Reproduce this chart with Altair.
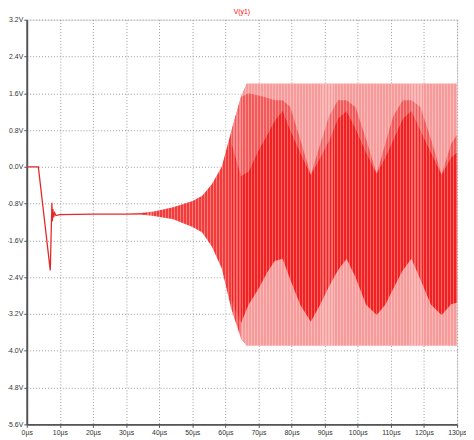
import altair as alt
import pandas as pd

# ---- data ----
x_ticks = [0, 10, 20, 30, 40, 50, 60, 70, 80, 90, 100, 110, 120, 130]
y_ticks = [3.2, 2.4, 1.6, 0.8, 0.0, -0.8, -1.6, -2.4, -3.2, -4.0, -4.8, -5.6]

# start-up transient (µs, V)
init_t = [0, 3.5, 7.1, 7.6, 7.75, 7.9, 8.1, 8.4, 8.8, 10, 20, 30, 36]
init_v = [0, 0, -2.25, -0.78, -1.18, -0.92, -1.1, -1.0, -1.06, -1.04, -1.03, -1.03, -1.02]

# oscillation envelope (µs, upper V, lower V)
env_t = [35, 38.4, 44.2, 50.1, 53.0, 55.9, 58.9, 61.8, 64.7, 66.5, 130]
env_hi = [-1.0, -0.97, -0.88, -0.74, -0.63, -0.38, 0.0, 0.78, 1.52, 1.81, 1.81]
env_lo = [-1.04, -1.07, -1.14, -1.31, -1.43, -1.73, -2.21, -3.09, -3.73, -3.89, -3.89]

# shading zones inside the saturated oscillation (µs)
band_t = [61.8, 64.7, 67.0, 70.0, 72.6, 74.9, 77.3, 79.6, 82.6, 85.8, 88.7, 91.3, 94.0,
          96.6, 99.3, 102.5, 105.7, 108.3, 110.7, 113.6, 116.2, 118.9, 122.1, 125.3, 128.2, 130]
# top of the medium-density zone (V)
mid_top = [0.78, 1.52, 1.6, 1.55, 1.5, 1.45, 1.45, 1.3, 0.6, -0.17, 0.5, 1.1, 1.45,
           1.45, 1.3, 0.6, -0.15, 0.5, 1.1, 1.45, 1.45, 1.3, 0.6, -0.17, 0.5, 0.7]
# dense (dark) band (V)
band_top = [0.5, -0.2, -0.1, 0.36, 0.69, 1.01, 1.22, 0.80, 0.32, -0.17, 0.21, 0.57, 1.05,
            1.22, 0.84, 0.32, -0.15, 0.21, 0.59, 1.05, 1.22, 0.80, 0.32, -0.17, 0.21, 0.32]
band_bot = [-2.9, -3.4, -3.0, -2.65, -2.3, -2.05, -2.0, -2.45, -3.0, -3.37, -2.99, -2.6, -2.25,
            -2.0, -2.4, -3.0, -3.22, -3.0, -2.65, -2.25, -2.0, -2.45, -3.0, -3.22, -2.99, -2.95]

init_df = pd.DataFrame({"t": init_t, "v": init_v})
env_df = pd.DataFrame({"t": env_t, "hi": env_hi, "lo": env_lo})
mid_df = pd.DataFrame({"t": band_t, "hi": mid_top, "lo": band_top})
band_df = pd.DataFrame({"t": band_t, "hi": band_top, "lo": band_bot})

FONT = "Liberation Sans"
WIDTH = 436

x_axis = alt.Axis(values=x_ticks, labelExpr="datum.value + 'µs'", title=None,
                  grid=True, gridDash=[1, 2], gridColor="#9a9a9a", gridWidth=1,
                  tickSize=3, tickColor="#555", domainColor="#555", domainWidth=2,
                  labelFontSize=7, labelColor="#333", labelPadding=1, labelFont=FONT,
                  labelFlush=False)
y_axis = alt.Axis(values=y_ticks,
                  labelExpr="(datum.value < 0 ? '-' : '') + format(abs(datum.value), '.1f') + 'V'",
                  title=None, grid=True, gridDash=[1, 2], gridColor="#9a9a9a", gridWidth=1,
                  tickSize=3, tickColor="#555", domainColor="#555", domainWidth=2,
                  labelFontSize=7, labelColor="#333", labelPadding=1, labelFont=FONT)

xs = alt.Scale(domain=[0, 130], nice=False, zero=False)
ys = alt.Scale(domain=[-5.6, 3.2], nice=False, zero=False)


def X():
    return alt.X("t:Q", scale=xs, axis=x_axis)


grow = alt.Chart(env_df).transform_filter("datum.t <= 66.5").mark_area(
    color="#f23c3c", opacity=1).encode(
    x=X(), y=alt.Y("hi:Q", scale=ys, axis=y_axis), y2="lo:Q")

sat = alt.Chart(env_df).transform_filter("datum.t >= 64.7").mark_area(
    color="#f79a9a", opacity=1).encode(
    x=X(), y=alt.Y("hi:Q", scale=ys, axis=y_axis), y2="lo:Q")

mid = alt.Chart(mid_df).mark_area(color="#f25a5a", opacity=1).encode(
    x=X(), y=alt.Y("hi:Q", scale=ys, axis=y_axis), y2="lo:Q")

band = alt.Chart(band_df).mark_area(color="#f22020", opacity=1).encode(
    x=X(), y=alt.Y("hi:Q", scale=ys, axis=y_axis), y2="lo:Q")

# vertical stripe texture of the dense oscillation (style only): a striped
# translucent white gradient laid over the envelope's bounding box
span_px = (max(env_t) - min(env_t)) / 130 * WIDTH
n_stripes = int(span_px / 3)
stops = []
for i in range(n_stripes):
    a = i / n_stripes
    b = (i + 0.62) / n_stripes
    c = (i + 1) / n_stripes
    stops += [alt.GradientStop(offset=a, color="rgba(255,255,255,0)"),
              alt.GradientStop(offset=b, color="rgba(255,255,255,0)"),
              alt.GradientStop(offset=b, color="rgba(255,255,255,0.32)"),
              alt.GradientStop(offset=c, color="rgba(255,255,255,0.32)")]
stripes = alt.Chart(env_df).transform_aggregate(
    t0="min(t)", t1="max(t)", hi="max(hi)", lo="min(lo)"
).mark_rect(fill=alt.LinearGradient(gradient="linear", stops=stops,
                                    x1=0, x2=1, y1=0, y2=0)).encode(
    x=alt.X("t0:Q", scale=xs, axis=x_axis), x2="t1:Q",
    y=alt.Y("hi:Q", scale=ys, axis=y_axis), y2="lo:Q")

line = alt.Chart(init_df).mark_line(color="#e82828", strokeWidth=1.3).encode(
    x=X(), y=alt.Y("v:Q", scale=ys, axis=y_axis))

chart = alt.layer(grow, sat, mid, band, stripes, line).properties(
    width=WIDTH, height=410,
    autosize=alt.AutoSizeParams(type="none"),
    padding={"left": 19, "top": 9, "right": 9, "bottom": 14},
    title=alt.TitleParams("V(y1)", color="#ff0000", fontSize=7, fontWeight="normal",
                          anchor="middle", offset=1, font=FONT),
).configure_view(stroke="#555", strokeWidth=1.5).configure(background="white")

chart.save("out.html", embed_options={"renderer": "svg", "actions": False})
